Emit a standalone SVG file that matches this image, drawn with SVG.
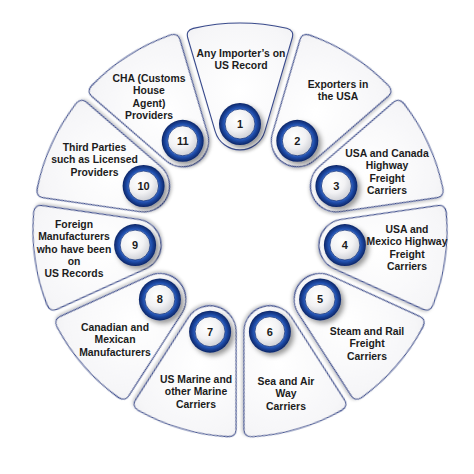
<svg xmlns="http://www.w3.org/2000/svg" xmlns:xlink="http://www.w3.org/1999/xlink" width="474" height="474" viewBox="0 0 474 474">
<style>
.seg{fill:url(#segFill);stroke:#3a4b8c;stroke-width:1.1;filter:url(#segShadow)}
.lbl{font-family:"Liberation Sans",Arial,sans-serif;font-weight:bold;font-size:10.4px;fill:#1c1c1c;text-anchor:middle}
.num{font-family:"Liberation Sans",Arial,sans-serif;font-weight:bold;font-size:11px;fill:#1c1c1c;text-anchor:middle}
</style>
<defs>
<radialGradient id="segFill" gradientUnits="userSpaceOnUse" cx="0" cy="-140" r="115">
<stop offset="0" stop-color="#ffffff"/>
<stop offset="0.6" stop-color="#f6f6f8"/>
<stop offset="1" stop-color="#e3e3e8"/>
</radialGradient>
<radialGradient id="ringFill" cx="0.5" cy="0.5" r="0.5">
<stop offset="0.68" stop-color="#3c6fd0"/>
<stop offset="0.8" stop-color="#1f4ca8"/>
<stop offset="1" stop-color="#0c2566"/>
</radialGradient>
<radialGradient id="coreFill" cx="0.4" cy="0.35" r="0.7">
<stop offset="0" stop-color="#ffffff"/>
<stop offset="0.55" stop-color="#f2f2f4"/>
<stop offset="1" stop-color="#c9cbd2"/>
</radialGradient>
<filter id="segShadow" x="-20%" y="-20%" width="140%" height="140%">
<feDropShadow dx="1.5" dy="1.5" stdDeviation="1.5" flood-color="#000" flood-opacity="0.22"/>
</filter>
<filter id="badgeShadow" x="-50%" y="-50%" width="200%" height="200%">
<feDropShadow dx="3" dy="3" stdDeviation="2.5" flood-color="#000" flood-opacity="0.4"/>
</filter>
<path id="segment" class="seg" d="M 24.816 -98.713 L 52.215 -192.027 Q 54.469 -199.703 46.716 -201.66 A 207 207 0 0 0 -46.716 -201.66 Q -54.469 -199.703 -52.215 -192.027 L -24.816 -98.713 A 25.86 25.86 0 0 0 24.816 -98.713 Z"/>
<g id="badge">
<circle r="21" fill="url(#ringFill)" filter="url(#badgeShadow)"/>
<circle r="15" fill="url(#coreFill)" stroke="#15367f" stroke-width="0.8"/>
</g>
</defs>

<g id="node-1">
<use xlink:href="#segment" href="#segment" transform="translate(240,230) rotate(0)"/>
<use xlink:href="#badge" href="#badge" x="240" y="124"/>
<text class="num" x="240" y="128">1</text>
<text class="lbl" x="241" y="57"><tspan x="241">Any Importer’s on</tspan><tspan x="241" dy="12.3">US Record</tspan></text>
</g>

<g id="node-2">
<use xlink:href="#segment" href="#segment" transform="translate(240,230) rotate(32.7273)"/>
<use xlink:href="#badge" href="#badge" x="297.3" y="140.8"/>
<text class="num" x="297.3" y="144.8">2</text>
<text class="lbl" x="338" y="88"><tspan x="338">Exporters in</tspan><tspan x="338" dy="12.3">the USA</tspan></text>
</g>

<g id="node-3">
<use xlink:href="#segment" href="#segment" transform="translate(240,230) rotate(65.4545)"/>
<use xlink:href="#badge" href="#badge" x="336.4" y="186"/>
<text class="num" x="336.4" y="190">3</text>
<text class="lbl" x="387" y="157"><tspan x="387">USA and Canada</tspan><tspan x="387" dy="12.3">Highway</tspan><tspan x="387" dy="12.3">Freight</tspan><tspan x="387" dy="12.3">Carriers</tspan></text>
</g>

<g id="node-4">
<use xlink:href="#segment" href="#segment" transform="translate(240,230) rotate(98.1818)"/>
<use xlink:href="#badge" href="#badge" x="344.9" y="245.1"/>
<text class="num" x="344.9" y="249.1">4</text>
<text class="lbl" x="407" y="233"><tspan x="407">USA and</tspan><tspan x="407" dy="12.3">Mexico Highway</tspan><tspan x="407" dy="12.3">Freight</tspan><tspan x="407" dy="12.3">Carriers</tspan></text>
</g>

<g id="node-5">
<use xlink:href="#segment" href="#segment" transform="translate(240,230) rotate(130.9091)"/>
<use xlink:href="#badge" href="#badge" x="320.1" y="299.4"/>
<text class="num" x="320.1" y="303.4">5</text>
<text class="lbl" x="367" y="335"><tspan x="367">Steam and Rail</tspan><tspan x="367" dy="12.3">Freight</tspan><tspan x="367" dy="12.3">Carriers</tspan></text>
</g>

<g id="node-6">
<use xlink:href="#segment" href="#segment" transform="translate(240,230) rotate(163.6364)"/>
<use xlink:href="#badge" href="#badge" x="269.9" y="331.7"/>
<text class="num" x="269.9" y="335.7">6</text>
<text class="lbl" x="286" y="385"><tspan x="286">Sea and Air</tspan><tspan x="286" dy="12.3">Way</tspan><tspan x="286" dy="12.3">Carriers</tspan></text>
</g>

<g id="node-7">
<use xlink:href="#segment" href="#segment" transform="translate(240,230) rotate(196.3636)"/>
<use xlink:href="#badge" href="#badge" x="210.1" y="331.7"/>
<text class="num" x="210.1" y="335.7">7</text>
<text class="lbl" x="196" y="383"><tspan x="196">US Marine and</tspan><tspan x="196" dy="12.3">other Marine</tspan><tspan x="196" dy="12.3">Carriers</tspan></text>
</g>

<g id="node-8">
<use xlink:href="#segment" href="#segment" transform="translate(240,230) rotate(229.0909)"/>
<use xlink:href="#badge" href="#badge" x="159.9" y="299.4"/>
<text class="num" x="159.9" y="303.4">8</text>
<text class="lbl" x="115" y="331"><tspan x="115">Canadian and</tspan><tspan x="115" dy="12.3">Mexican</tspan><tspan x="115" dy="12.3">Manufacturers</tspan></text>
</g>

<g id="node-9">
<use xlink:href="#segment" href="#segment" transform="translate(240,230) rotate(261.8182)"/>
<use xlink:href="#badge" href="#badge" x="135.1" y="245.1"/>
<text class="num" x="135.1" y="249.1">9</text>
<text class="lbl" x="74" y="228"><tspan x="74">Foreign</tspan><tspan x="74" dy="12.3">Manufacturers</tspan><tspan x="74" dy="12.3">who have been</tspan><tspan x="74" dy="12.3">on</tspan><tspan x="74" dy="12.3">US Records</tspan></text>
</g>

<g id="node-10">
<use xlink:href="#segment" href="#segment" transform="translate(240,230) rotate(294.5455)"/>
<use xlink:href="#badge" href="#badge" x="143.6" y="186"/>
<text class="num" x="143.6" y="190">10</text>
<text class="lbl" x="94.5" y="151"><tspan x="94.5">Third Parties</tspan><tspan x="94.5" dy="12.3">such as Licensed</tspan><tspan x="94.5" dy="12.3">Providers</tspan></text>
</g>

<g id="node-11">
<use xlink:href="#segment" href="#segment" transform="translate(240,230) rotate(327.2727)"/>
<use xlink:href="#badge" href="#badge" x="182.7" y="140.8"/>
<text class="num" x="182.7" y="144.8">11</text>
<text class="lbl" x="149" y="82"><tspan x="149">CHA (Customs</tspan><tspan x="149" dy="12.3">House</tspan><tspan x="149" dy="12.3">Agent)</tspan><tspan x="149" dy="12.3">Providers</tspan></text>
</g>
</svg>
